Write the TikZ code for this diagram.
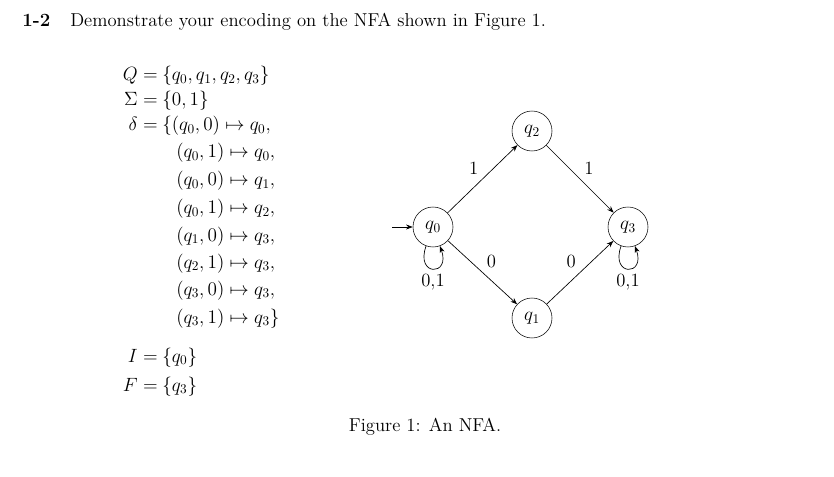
\documentclass[tikz,border=0pt]{standalone}
\usetikzlibrary{arrows.meta}
\begin{document}
\begin{tikzpicture}[x=0.75pt,y=-0.75pt,font=\fontsize{14}{17}\selectfont,
  st/.style={circle,draw,minimum size=30pt,inner sep=0pt},
  ed/.style={draw,-{Stealth[length=5pt]},line width=0.5pt},
  lhs/.style={anchor=base east,inner sep=0pt},
  rhs/.style={anchor=base west,inner sep=0pt}]
\useasboundingbox (0,0) rectangle (834,477);
\node[rhs] (t1) at (22,27) {\textbf{1-2}};
\node[rhs] (t2) at (70,27) {Demonstrate your encoding on the NFA shown in Figure 1.};
\node[lhs] (l1) at (158,81) {$Q=$}; \node[rhs] (r1) at (162,81) {$\{q_0,q_1,q_2,q_3\}$};
\node[lhs] (l2) at (158,106) {$\Sigma=$}; \node[rhs] (r2) at (162,106) {$\{0,1\}$};
\node[lhs] (l3) at (158,131) {$\delta=$}; \node[rhs] (r3) at (162,131) {$\{(q_0,0)\mapsto q_0,$};
\node[rhs] (r4) at (176,158) {$(q_0,1)\mapsto q_0,$};
\node[rhs] (r5) at (176,186) {$(q_0,0)\mapsto q_1,$};
\node[rhs] (r6) at (176,214) {$(q_0,1)\mapsto q_2,$};
\node[rhs] (r7) at (176,241) {$(q_1,0)\mapsto q_3,$};
\node[rhs] (r8) at (176,268) {$(q_2,1)\mapsto q_3,$};
\node[rhs] (r9) at (176,295) {$(q_3,0)\mapsto q_3,$};
\node[rhs] (r10) at (176,323) {$(q_3,1)\mapsto q_3\}$};
\node[lhs] (l11) at (158,362) {$I=$}; \node[rhs] (r11) at (162,362) {$\{q_0\}$};
\node[lhs] (l12) at (158,391) {$F=$}; \node[rhs] (r12) at (162,391) {$\{q_3\}$};
\node[st] (q0) at (433,227) {$q_0$};
\node[st] (q2) at (532,131) {$q_2$};
\node[st] (q3) at (628,227) {$q_3$};
\node[st] (q1) at (532,318) {$q_1$};
\coordinate (in) at (392,227);
\draw[ed] (in) -- (q0);
\draw[ed] (q0) -- node[pos=0.5,above left,inner sep=3pt] {1} (q2);
\draw[ed] (q2) -- node[pos=0.5,above right,inner sep=3pt] {1} (q3);
\draw[ed] (q0) -- node[pos=0.5,above right,inner sep=3pt] {0} (q1);
\draw[ed] (q1) -- node[pos=0.5,above left,inner sep=3pt] {0} (q3);
\draw[ed] (q0) to[out=-110,in=-70,looseness=6] node[below] {0,1} (q0);
\draw[ed] (q3) to[out=-110,in=-70,looseness=6] node[below] {0,1} (q3);
\node (cap) at (425,427) {Figure 1: An NFA.};
\end{tikzpicture}
\end{document}
